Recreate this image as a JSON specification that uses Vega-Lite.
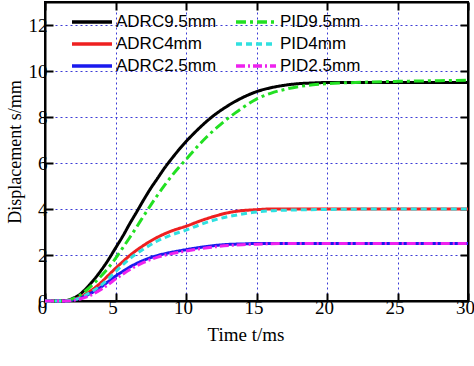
{
  "$schema": "https://vega.github.io/schema/vega-lite/v6.json",
  "width": 423,
  "height": 299,
  "autosize": {"type": "none"},
  "padding": {"left": 45, "top": 2, "right": 6, "bottom": 65},
  "background": "white",
  "config": {
    "view": {"stroke": "black", "strokeWidth": 2},
    "axis": {
      "labelFont": "Liberation Serif",
      "labelFontSize": 19,
      "labelColor": "black",
      "titleFont": "Liberation Serif",
      "titleFontSize": 19,
      "titleFontWeight": "normal",
      "titleColor": "black",
      "domainColor": "black",
      "domainWidth": 2,
      "tickColor": "black",
      "tickWidth": 2,
      "tickSize": -8,
      "gridColor": "#3b3bd6",
      "gridDash": [2, 3],
      "gridWidth": 1,
      "gridOpacity": 1
    }
  },
  "data": {"values": [
    {"t":0,"v":0,"s":"ADRC9.5mm"},{"t":1,"v":0,"s":"ADRC9.5mm"},{"t":1.5,"v":0.02,"s":"ADRC9.5mm"},{"t":2,"v":0.12,"s":"ADRC9.5mm"},{"t":2.5,"v":0.3,"s":"ADRC9.5mm"},{"t":3,"v":0.6,"s":"ADRC9.5mm"},{"t":3.5,"v":0.95,"s":"ADRC9.5mm"},{"t":4,"v":1.35,"s":"ADRC9.5mm"},{"t":4.5,"v":1.8,"s":"ADRC9.5mm"},{"t":5,"v":2.3,"s":"ADRC9.5mm"},{"t":5.5,"v":2.8,"s":"ADRC9.5mm"},{"t":6,"v":3.35,"s":"ADRC9.5mm"},{"t":6.5,"v":3.87,"s":"ADRC9.5mm"},{"t":7,"v":4.4,"s":"ADRC9.5mm"},{"t":7.5,"v":4.9,"s":"ADRC9.5mm"},{"t":8,"v":5.35,"s":"ADRC9.5mm"},{"t":8.5,"v":5.8,"s":"ADRC9.5mm"},{"t":9,"v":6.2,"s":"ADRC9.5mm"},{"t":9.5,"v":6.58,"s":"ADRC9.5mm"},{"t":10,"v":6.93,"s":"ADRC9.5mm"},{"t":10.5,"v":7.25,"s":"ADRC9.5mm"},{"t":11,"v":7.55,"s":"ADRC9.5mm"},{"t":11.5,"v":7.83,"s":"ADRC9.5mm"},{"t":12,"v":8.08,"s":"ADRC9.5mm"},{"t":12.5,"v":8.3,"s":"ADRC9.5mm"},{"t":13,"v":8.5,"s":"ADRC9.5mm"},{"t":13.5,"v":8.68,"s":"ADRC9.5mm"},{"t":14,"v":8.84,"s":"ADRC9.5mm"},{"t":15,"v":9.1,"s":"ADRC9.5mm"},{"t":16,"v":9.27,"s":"ADRC9.5mm"},{"t":17,"v":9.38,"s":"ADRC9.5mm"},{"t":18,"v":9.45,"s":"ADRC9.5mm"},{"t":19,"v":9.48,"s":"ADRC9.5mm"},{"t":20,"v":9.5,"s":"ADRC9.5mm"},{"t":25,"v":9.5,"s":"ADRC9.5mm"},{"t":30,"v":9.5,"s":"ADRC9.5mm"},

    {"t":0,"v":0,"s":"PID9.5mm"},{"t":1,"v":0,"s":"PID9.5mm"},{"t":1.5,"v":0.01,"s":"PID9.5mm"},{"t":2,"v":0.1,"s":"PID9.5mm"},{"t":2.5,"v":0.26,"s":"PID9.5mm"},{"t":3,"v":0.5,"s":"PID9.5mm"},{"t":3.5,"v":0.78,"s":"PID9.5mm"},{"t":4,"v":1.1,"s":"PID9.5mm"},{"t":4.5,"v":1.45,"s":"PID9.5mm"},{"t":5,"v":1.85,"s":"PID9.5mm"},{"t":5.5,"v":2.3,"s":"PID9.5mm"},{"t":6,"v":2.75,"s":"PID9.5mm"},{"t":6.5,"v":3.22,"s":"PID9.5mm"},{"t":7,"v":3.7,"s":"PID9.5mm"},{"t":7.5,"v":4.17,"s":"PID9.5mm"},{"t":8,"v":4.62,"s":"PID9.5mm"},{"t":8.5,"v":5.05,"s":"PID9.5mm"},{"t":9,"v":5.45,"s":"PID9.5mm"},{"t":9.5,"v":5.82,"s":"PID9.5mm"},{"t":10,"v":6.15,"s":"PID9.5mm"},{"t":10.5,"v":6.5,"s":"PID9.5mm"},{"t":11,"v":6.84,"s":"PID9.5mm"},{"t":11.5,"v":7.15,"s":"PID9.5mm"},{"t":12,"v":7.44,"s":"PID9.5mm"},{"t":12.5,"v":7.7,"s":"PID9.5mm"},{"t":13,"v":7.95,"s":"PID9.5mm"},{"t":13.5,"v":8.18,"s":"PID9.5mm"},{"t":14,"v":8.4,"s":"PID9.5mm"},{"t":15,"v":8.78,"s":"PID9.5mm"},{"t":16,"v":9.03,"s":"PID9.5mm"},{"t":17,"v":9.2,"s":"PID9.5mm"},{"t":18,"v":9.32,"s":"PID9.5mm"},{"t":19,"v":9.4,"s":"PID9.5mm"},{"t":20,"v":9.45,"s":"PID9.5mm"},{"t":22,"v":9.5,"s":"PID9.5mm"},{"t":25,"v":9.55,"s":"PID9.5mm"},{"t":28,"v":9.58,"s":"PID9.5mm"},{"t":30,"v":9.6,"s":"PID9.5mm"},

    {"t":0,"v":0,"s":"ADRC4mm"},{"t":1.5,"v":0,"s":"ADRC4mm"},{"t":2,"v":0.06,"s":"ADRC4mm"},{"t":2.5,"v":0.18,"s":"ADRC4mm"},{"t":3,"v":0.35,"s":"ADRC4mm"},{"t":3.5,"v":0.56,"s":"ADRC4mm"},{"t":4,"v":0.82,"s":"ADRC4mm"},{"t":4.5,"v":1.12,"s":"ADRC4mm"},{"t":5,"v":1.42,"s":"ADRC4mm"},{"t":5.5,"v":1.7,"s":"ADRC4mm"},{"t":6,"v":1.97,"s":"ADRC4mm"},{"t":7,"v":2.42,"s":"ADRC4mm"},{"t":8,"v":2.78,"s":"ADRC4mm"},{"t":9,"v":3.05,"s":"ADRC4mm"},{"t":10,"v":3.25,"s":"ADRC4mm"},{"t":11,"v":3.48,"s":"ADRC4mm"},{"t":12,"v":3.68,"s":"ADRC4mm"},{"t":13,"v":3.84,"s":"ADRC4mm"},{"t":14,"v":3.93,"s":"ADRC4mm"},{"t":15,"v":3.97,"s":"ADRC4mm"},{"t":16,"v":4.0,"s":"ADRC4mm"},{"t":20,"v":4.0,"s":"ADRC4mm"},{"t":30,"v":4.0,"s":"ADRC4mm"},

    {"t":0,"v":0,"s":"PID4mm"},{"t":1.5,"v":0,"s":"PID4mm"},{"t":2,"v":0.04,"s":"PID4mm"},{"t":2.5,"v":0.14,"s":"PID4mm"},{"t":3,"v":0.3,"s":"PID4mm"},{"t":3.5,"v":0.48,"s":"PID4mm"},{"t":4,"v":0.7,"s":"PID4mm"},{"t":4.5,"v":0.97,"s":"PID4mm"},{"t":5,"v":1.27,"s":"PID4mm"},{"t":5.5,"v":1.56,"s":"PID4mm"},{"t":6,"v":1.83,"s":"PID4mm"},{"t":7,"v":2.26,"s":"PID4mm"},{"t":8,"v":2.62,"s":"PID4mm"},{"t":9,"v":2.88,"s":"PID4mm"},{"t":10,"v":3.08,"s":"PID4mm"},{"t":11,"v":3.32,"s":"PID4mm"},{"t":12,"v":3.52,"s":"PID4mm"},{"t":13,"v":3.67,"s":"PID4mm"},{"t":14,"v":3.78,"s":"PID4mm"},{"t":15,"v":3.87,"s":"PID4mm"},{"t":16,"v":3.92,"s":"PID4mm"},{"t":18,"v":3.96,"s":"PID4mm"},{"t":20,"v":3.98,"s":"PID4mm"},{"t":25,"v":4.0,"s":"PID4mm"},{"t":30,"v":4.0,"s":"PID4mm"},

    {"t":0,"v":0,"s":"ADRC2.5mm"},{"t":1.5,"v":0,"s":"ADRC2.5mm"},{"t":2,"v":0.05,"s":"ADRC2.5mm"},{"t":2.5,"v":0.13,"s":"ADRC2.5mm"},{"t":3,"v":0.26,"s":"ADRC2.5mm"},{"t":3.5,"v":0.42,"s":"ADRC2.5mm"},{"t":4,"v":0.62,"s":"ADRC2.5mm"},{"t":4.5,"v":0.85,"s":"ADRC2.5mm"},{"t":5,"v":1.08,"s":"ADRC2.5mm"},{"t":5.5,"v":1.28,"s":"ADRC2.5mm"},{"t":6,"v":1.47,"s":"ADRC2.5mm"},{"t":7,"v":1.77,"s":"ADRC2.5mm"},{"t":8,"v":1.98,"s":"ADRC2.5mm"},{"t":9,"v":2.12,"s":"ADRC2.5mm"},{"t":10,"v":2.23,"s":"ADRC2.5mm"},{"t":11,"v":2.33,"s":"ADRC2.5mm"},{"t":12,"v":2.41,"s":"ADRC2.5mm"},{"t":13,"v":2.46,"s":"ADRC2.5mm"},{"t":14,"v":2.48,"s":"ADRC2.5mm"},{"t":15,"v":2.5,"s":"ADRC2.5mm"},{"t":20,"v":2.5,"s":"ADRC2.5mm"},{"t":30,"v":2.5,"s":"ADRC2.5mm"},

    {"t":0,"v":0,"s":"PID2.5mm"},{"t":1.5,"v":0,"s":"PID2.5mm"},{"t":2,"v":0.03,"s":"PID2.5mm"},{"t":2.5,"v":0.09,"s":"PID2.5mm"},{"t":3,"v":0.19,"s":"PID2.5mm"},{"t":3.5,"v":0.33,"s":"PID2.5mm"},{"t":4,"v":0.51,"s":"PID2.5mm"},{"t":4.5,"v":0.72,"s":"PID2.5mm"},{"t":5,"v":0.95,"s":"PID2.5mm"},{"t":5.5,"v":1.16,"s":"PID2.5mm"},{"t":6,"v":1.36,"s":"PID2.5mm"},{"t":7,"v":1.68,"s":"PID2.5mm"},{"t":8,"v":1.91,"s":"PID2.5mm"},{"t":9,"v":2.06,"s":"PID2.5mm"},{"t":10,"v":2.17,"s":"PID2.5mm"},{"t":11,"v":2.27,"s":"PID2.5mm"},{"t":12,"v":2.35,"s":"PID2.5mm"},{"t":13,"v":2.41,"s":"PID2.5mm"},{"t":14,"v":2.45,"s":"PID2.5mm"},{"t":15,"v":2.47,"s":"PID2.5mm"},{"t":17,"v":2.5,"s":"PID2.5mm"},{"t":30,"v":2.5,"s":"PID2.5mm"}
  ]},
  "layer": [
    {
      "transform": [{"filter": "indexof(datum.s, 'ADRC') === 0"}],
      "mark": {"type": "line", "strokeWidth": 3, "interpolate": "monotone"},
      "encoding": {
        "x": {"field": "t", "type": "quantitative",
              "scale": {"domain": [0, 30], "nice": false},
              "axis": {"values": [0,5,10,15,20,25,30], "title": "Time t/ms", "labelPadding": 5, "labelOffset": -3, "grid": true, "orient": "bottom", "labelFlush": false,
                       "titleX": 200.5, "titleY": 39, "titleBaseline": "alphabetic", "titleAlign": "center", "titleAnchor": null}},
        "y": {"field": "v", "type": "quantitative",
              "scale": {"domain": [0, 13], "nice": false},
              "axis": {"values": [0,2,4,6,8,10,12], "title": "Displacement s/mm", "labelPadding": 6, "titlePadding": 4, "grid": true, "orient": "left", "titleFontSize": 18}},
        "color": {"field": "s", "type": "nominal",
                  "scale": {"domain": ["ADRC9.5mm","ADRC4mm","ADRC2.5mm","PID9.5mm","PID4mm","PID2.5mm"],
                            "range": ["#000000","#ee2020","#1a1aee","#22e022","#30e0e0","#ee22ee"]},
                  "legend": {"orient": "none", "legendX": 38, "legendY": 11, "columns": 2, "title": null,
                             "labelFont": "Liberation Sans", "labelFontSize": 17, "labelColor": "black",
                             "symbolType": "M-2.857,0H2.857", "symbolSize": 196, "symbolStrokeWidth": 3.5,
                             "labelOffset": 15, "rowPadding": 5, "columnPadding": 12, "labelLimit": 200}},
        "strokeDash": {"field": "s", "type": "nominal",
                  "scale": {"domain": ["ADRC9.5mm","ADRC4mm","ADRC2.5mm","PID9.5mm","PID4mm","PID2.5mm"],
                            "range": [[1,0],[1,0],[1,0],[10,4,3,4],[6,4],[9,3,2,3]]},
                  "legend": {"orient": "none", "legendX": 38, "legendY": 11, "columns": 2, "title": null}}
      }
    },
    {
      "transform": [{"filter": "indexof(datum.s, 'PID') === 0"}],
      "mark": {"type": "line", "strokeWidth": 3, "interpolate": "monotone"},
      "encoding": {
        "x": {"field": "t", "type": "quantitative",
              "axis": {"values": [0,5,10,15,20,25,30], "title": null, "labels": false, "grid": false, "orient": "top"}},
        "y": {"field": "v", "type": "quantitative",
              "axis": {"values": [0,2,4,6,8,10,12], "title": null, "labels": false, "grid": false, "orient": "right"}},
        "color": {"field": "s", "type": "nominal"},
        "strokeDash": {"field": "s", "type": "nominal"}
      }
    }
  ],
  "resolve": {"axis": {"x": "independent", "y": "independent"}}
}
